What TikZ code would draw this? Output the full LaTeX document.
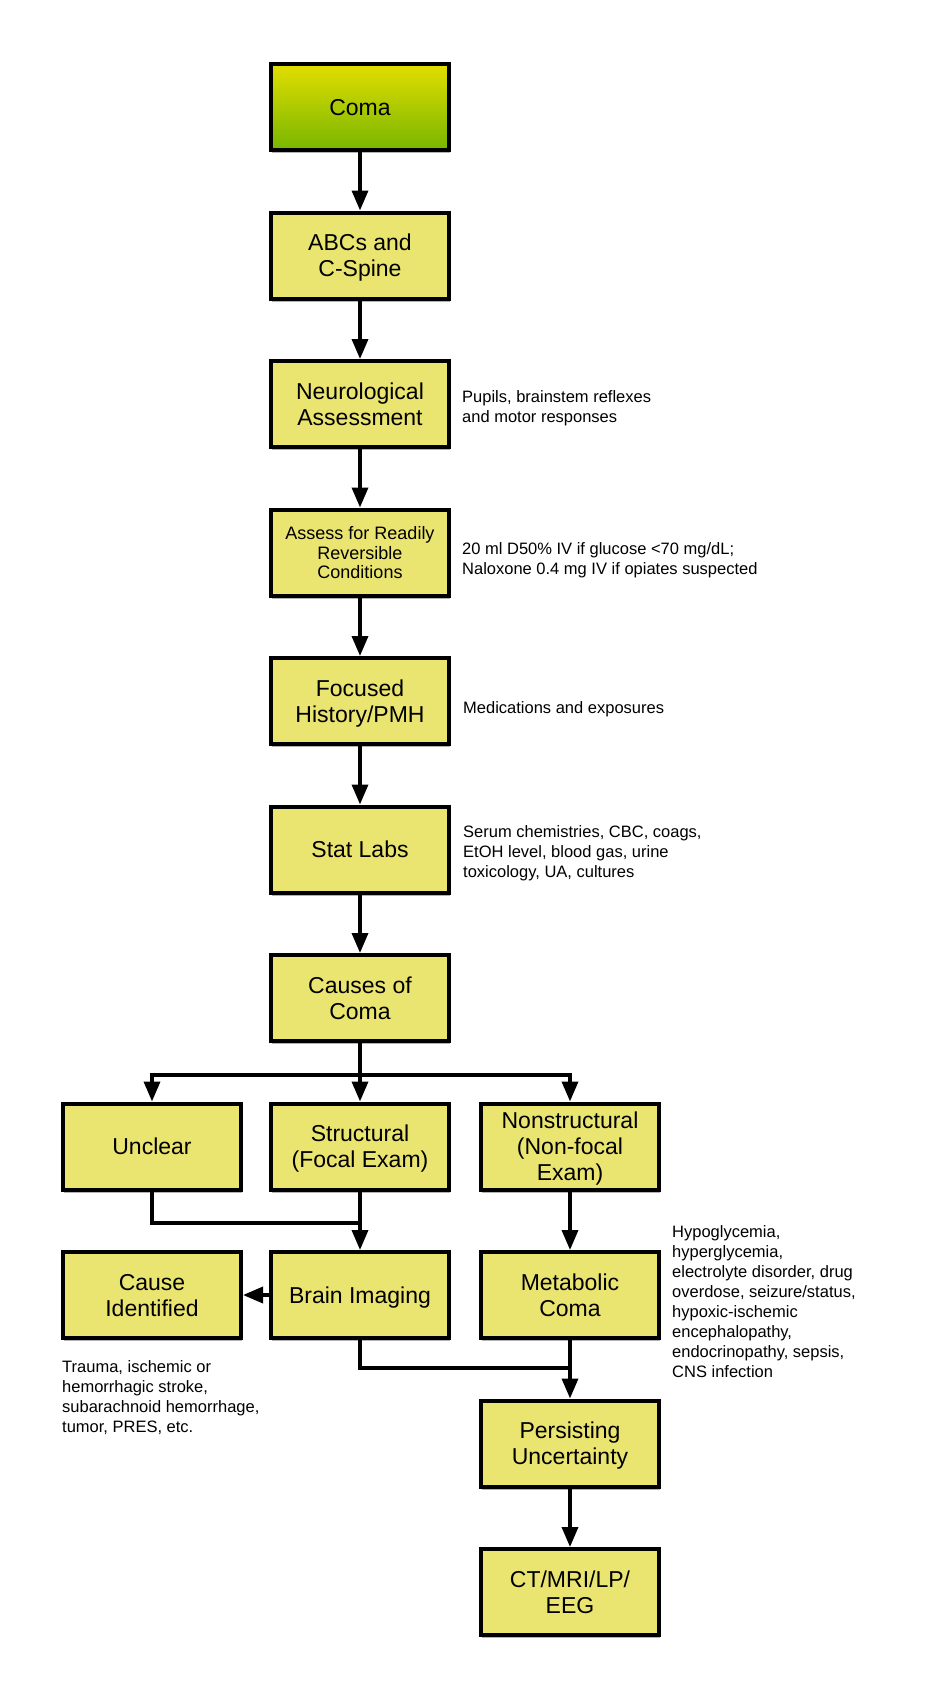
\documentclass[tikz,border=0pt]{standalone}
\usepackage{fontspec}
\setmainfont{Liberation Sans}
\usetikzlibrary{arrows.meta,shadows,calc}
\definecolor{boxfill}{RGB}{234,228,112}
\definecolor{comatop}{RGB}{226,222,0}
\definecolor{comabot}{RGB}{120,182,0}
\tikzset{
  flowbox/.style={draw=black, line width=4pt, fill=boxfill, minimum width=178pt, minimum height=86pt,
    align=center, inner sep=2pt, font=\fontsize{23}{26}\selectfont, text depth=-2pt,
    drop shadow={shadow xshift=1pt, shadow yshift=-3pt, fill=black, opacity=0.3}},
  smallbox/.style={flowbox, font=\fontsize{18}{19.5}\selectfont},
  note/.style={anchor=north west, align=left, inner sep=0pt, font=\fontsize{16.5}{20}\selectfont},
  conn/.style={line width=3.5pt, -{Triangle[length=20pt,width=16pt]}},
  plainline/.style={line width=3.5pt}
}
\begin{document}
\begin{tikzpicture}[x=1pt,y=-1pt]
\fill[white] (0,0) rectangle (939,1700);
\useasboundingbox (0,0) rectangle (939,1700);
% main column
\node[flowbox, top color=comatop, bottom color=comabot] (coma) at (360,107) {Coma};
\node[flowbox] (abc) at (360,255.5) {ABCs and\\C-Spine};
\node[flowbox] (neuro) at (360,404) {Neurological\\Assessment};
\node[smallbox] (assess) at (360,552.5) {Assess for Readily\\Reversible\\Conditions};
\node[flowbox] (focused) at (360,701) {Focused\\History/PMH};
\node[flowbox] (stat) at (360,849.5) {Stat Labs};
\node[flowbox] (causes) at (360,998) {Causes of\\Coma};
\node[flowbox] (unclear) at (152,1146.5) {Unclear};
\node[flowbox] (struct) at (360,1146.5) {Structural\\(Focal Exam)};
\node[flowbox] (nonstruct) at (570,1146.5) {Nonstructural\\(Non-focal\\Exam)};
\node[flowbox] (cause) at (152,1295) {Cause\\Identified};
\node[flowbox] (brain) at (360,1295) {Brain Imaging};
\node[flowbox] (metab) at (570,1295) {Metabolic\\Coma};
\node[flowbox] (persist) at (570,1443.5) {Persisting\\Uncertainty};
\node[flowbox] (ct) at (570,1592) {CT/MRI/LP/\\EEG};
% notes
\node[note] (n1) at (462,390) {Pupils, brainstem reflexes\\and motor responses};
\node[note] (n2) at (462,542) {20 ml D50\% IV if glucose <70 mg/dL;\\Naloxone 0.4 mg IV if opiates suspected};
\node[note] (n3) at (463,701) {Medications and exposures};
\node[note] (n4) at (463,825) {Serum chemistries, CBC, coags,\\EtOH level, blood gas, urine\\toxicology, UA, cultures};
\node[note] (n5) at (672,1225) {Hypoglycemia,\\hyperglycemia,\\electrolyte disorder, drug\\overdose, seizure/status,\\hypoxic-ischemic\\encephalopathy,\\endocrinopathy, sepsis,\\CNS infection};
\node[note] (n6) at (62,1360) {Trauma, ischemic or\\hemorrhagic stroke,\\subarachnoid hemorrhage,\\tumor, PRES, etc.};
% connectors
\draw[conn] (coma) -- (abc);
\draw[conn] (abc) -- (neuro);
\draw[conn] (neuro) -- (assess);
\draw[conn] (assess) -- (focused);
\draw[conn] (focused) -- (stat);
\draw[conn] (stat) -- (causes);
\coordinate (split) at (360,1075);
\draw[conn] (causes) -- (struct);
\draw[conn] (split) -| (unclear);
\draw[conn] (split) -| (nonstruct);
\coordinate (m1) at (360,1223);
\draw[plainline] (unclear) |- (m1);
\draw[conn] (struct) -- (brain);
\draw[conn] (nonstruct) -- (metab);
\draw[conn] (brain) -- (cause);
\coordinate (m2) at (570,1368);
\draw[plainline] (brain) |- (m2);
\draw[conn] (metab) -- (persist);
\draw[conn] (persist) -- (ct);
\end{tikzpicture}
\end{document}
